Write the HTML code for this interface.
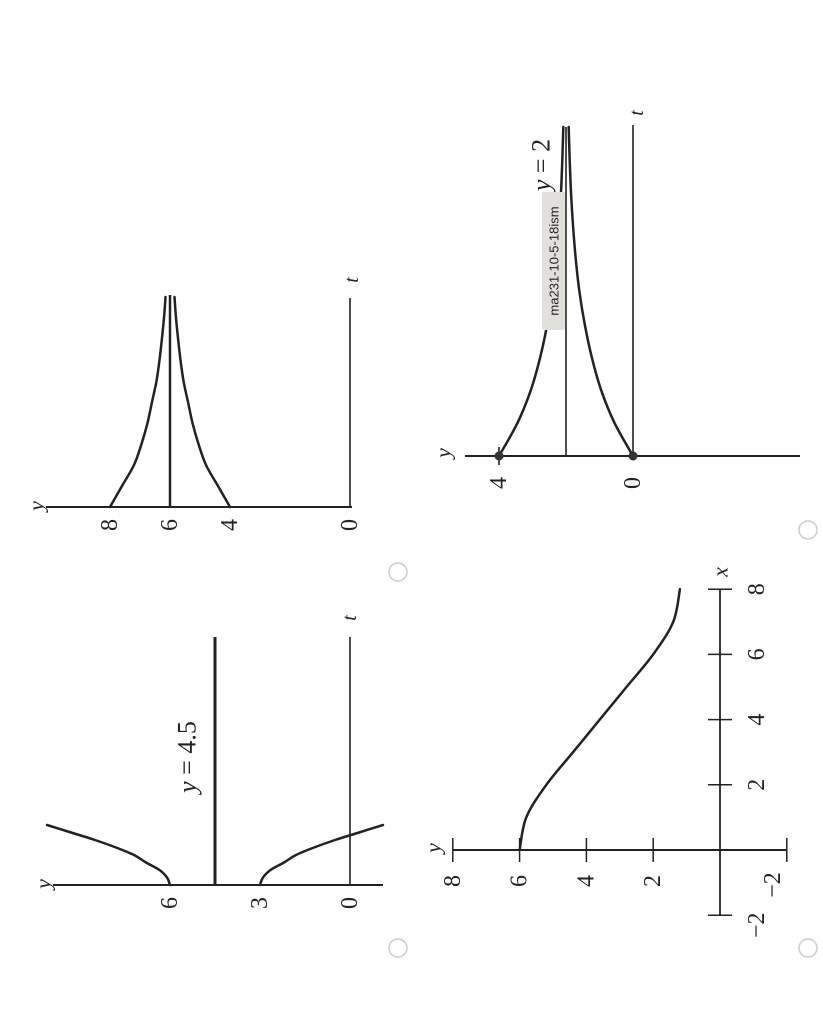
<!DOCTYPE html>
<html><head><meta charset="utf-8"><style>
html,body{margin:0;padding:0;background:#fff;}
svg{display:block;}
text{font-family:"Liberation Serif",serif;fill:#222;}
</style></head><body>
<svg id="chart" width="823" height="1024" viewBox="0 0 823 1024" xmlns="http://www.w3.org/2000/svg"></svg>
<script>
// Panel A: approaching 6 from 8 and 4
const aT = [0,0.5,1,1.5,2,2.5,3,3.5,4,4.5,5];
const aUpper = [8,7.6,7.2,6.95,6.75,6.6,6.45,6.35,6.27,6.2,6.15];
const aLower = [4,4.4,4.8,5.05,5.25,5.4,5.55,5.65,5.73,5.8,5.85];
const aTicks = [0,4,6,8];
const aEq = 6;
// Panel B: converging to y=2 from 4 and 0
const bT = [0,1,2,3,4,5,6,7,8,9,10];
const bUpper = [4,3.45,3.05,2.77,2.56,2.40,2.29,2.21,2.15,2.11,2.08];
const bLower = [0,0.55,0.95,1.23,1.44,1.60,1.71,1.79,1.85,1.89,1.92];
const bTicks = [0,4];
const bEq = 2;
// Panel C: diverging from y=4.5
const cT = [0,0.25,0.5,0.75,1,1.25,1.5,1.75,2];
const cUpper = [6,6.1,6.35,6.8,7.2,7.8,8.5,9.3,10.1];
const cLower = [3,2.9,2.65,2.2,1.8,1.2,0.5,-0.3,-1.1];
const cTicks = [0,3,6];
const cEq = 4.5;
// Panel D: y vs x
const dX = [0,1,2,3,4,5,6,7,8];
const dY = [6,5.8,5.2,4.4,3.6,2.8,2.0,1.4,1.2];
const dXTicks = [2,4,6,8];
const dYTicks = [2,4,6,8];

const svg = document.getElementById('chart');
const NS = 'http://www.w3.org/2000/svg';
function mk(tag, attrs){ const e=document.createElementNS(NS,tag); for(const k in attrs) e.setAttribute(k,attrs[k]); svg.appendChild(e); return e; }
function line(x1,y1,x2,y2,w){ return mk('line',{x1:x1,y1:y1,x2:x2,y2:y2,stroke:'#222','stroke-width':w}); }
function txt(x,y,s,size,italic){ const e=mk('text',{x:x,y:y,'font-size':size,'text-anchor':'middle','dominant-baseline':'central',transform:'rotate(-90 '+x+' '+y+')'}); if(italic) e.setAttribute('font-style','italic'); e.textContent=s; return e; }
function smooth(pts){
  let d='M'+pts[0][0]+','+pts[0][1];
  for(let i=0;i<pts.length-1;i++){
    const p0=pts[i-1]||pts[i], p1=pts[i], p2=pts[i+1], p3=pts[i+2]||p2;
    const c1x=p1[0]+(p2[0]-p0[0])/6, c1y=p1[1]+(p2[1]-p0[1])/6;
    const c2x=p2[0]-(p3[0]-p1[0])/6, c2y=p2[1]-(p3[1]-p1[1])/6;
    d+=' C'+c1x+','+c1y+' '+c2x+','+c2y+' '+p2[0]+','+p2[1];
  }
  return mk('path',{d:d,fill:'none',stroke:'#222','stroke-width':2.5,'stroke-linecap':'round'});
}

// circles
[[398,572],[398,948],[808,530],[808,948]].forEach(function(c){
  const e=mk('circle',{cx:c[0],cy:c[1],r:9,fill:'#fff',stroke:'#ccc','stroke-width':1.5});
  
  
});

// Panel A
(function(){
  const px = y => 350 - 30*y;
  const py = t => 507 - 42*t;
  let e;
  e=line(46,507,352,507,2);  
  e=line(350,507,350,298,1.6);  
  e=line(px(aEq),507,px(aEq),295,2.5);  
  e=smooth(aT.map((t,i)=>[px(aUpper[i]),py(t)]));
   
  e=smooth(aT.map((t,i)=>[px(aLower[i]),py(t)]));
   
  aTicks.forEach(v=>{ e=txt(px(v),525,String(v),24);   });
  e=txt(352,280,'t',20,true);  
  e=txt(36,506,'y',22,true);  
})();

// Panel B
(function(){
  const px = y => 633 - 33.5*y;
  const py = t => 456 - 32.9*t;
  let e;
  e=line(465,456,800,456,2);  
  e=line(633,456,633,125,1.6);  
  e=line(px(bEq),456,px(bEq),127,1.6);  
  e=line(px(4),447,px(4),465,1.6);  
  e=smooth(bT.map((t,i)=>[px(bUpper[i]),py(t)]));
   
  e=smooth(bT.map((t,i)=>[px(bLower[i]),py(t)]));
   
  [bUpper[0],bLower[0]].forEach(v=>{ e=mk('circle',{cx:px(v),cy:456,r:4.5,fill:'#333'});   });
  bTicks.forEach(v=>{ e=txt(px(v),483,String(v),24);   });
  e=txt(637,113,'t',20,true);  
  e=txt(443,453,'y',22,true);  
  e=mk('text',{x:541,y:165,'font-size':26,'text-anchor':'middle','dominant-baseline':'central',transform:'rotate(-90 541 165)'});
  e.innerHTML='<tspan font-style="italic">y</tspan> = 2';
   
  e=mk('rect',{x:542,y:192,width:23,height:138,fill:'#e2e0dd',rx:2});
   
  e=mk('text',{x:554,y:261,'font-size':13,'text-anchor':'middle','dominant-baseline':'central',transform:'rotate(-90 554 261)',style:'font-family:"Liberation Sans",sans-serif'});
  e.textContent='ma231-10-5-18ism';
   
})();

// Panel C
(function(){
  const px = y => 350 - 30*y;
  const py = t => 885 - 30*t;
  let e;
  e=line(53,885,383,885,2);  
  e=line(350,885,350,637,1.6);  
  e=line(px(cEq),885,px(cEq),637,3);  
  e=smooth(cT.map((t,i)=>[px(cUpper[i]),py(t)]));
   
  e=smooth(cT.map((t,i)=>[px(cLower[i]),py(t)]));
   
  cTicks.forEach(v=>{ e=txt(px(v),903,String(v),24);   });
  e=txt(350,618,'t',20,true);  
  e=txt(43,884,'y',22,true);  
  e=mk('text',{x:187,y:757,'font-size':26,'text-anchor':'middle','dominant-baseline':'central',transform:'rotate(-90 187 757)'});
  e.innerHTML='<tspan font-style="italic">y</tspan> = 4.5';
   
})();

// Panel D
(function(){
  const px = y => 720 - 33.4*y;
  const py = x => 850 - 32.6*x;
  let e;
  e=line(px(8),850,px(-2),850,2);  
  e=line(720,py(-2),720,py(8),1.8);  
  dYTicks.concat([-2]).forEach(v=>{ e=line(px(v),838,px(v),862,1.5);   });
  dXTicks.concat([-2]).forEach(v=>{ e=line(708,py(v),732,py(v),1.5);   });
  e=smooth(dX.map((x,i)=>[px(dY[i]),py(x)]));
   
  dYTicks.forEach(v=>{ e=txt(px(v),881,String(v),24);   });
  dXTicks.forEach(v=>{ e=txt(757,py(v),String(v),24);   });
  e=txt(px(-2)-14,885,'\u22122',24);  
  e=txt(757,py(-2)+10,'\u22122',24);  
  e=txt(720,572,'x',22,true);  
  e=txt(433,848,'y',22,true);  
})();
</script>
</body></html>
